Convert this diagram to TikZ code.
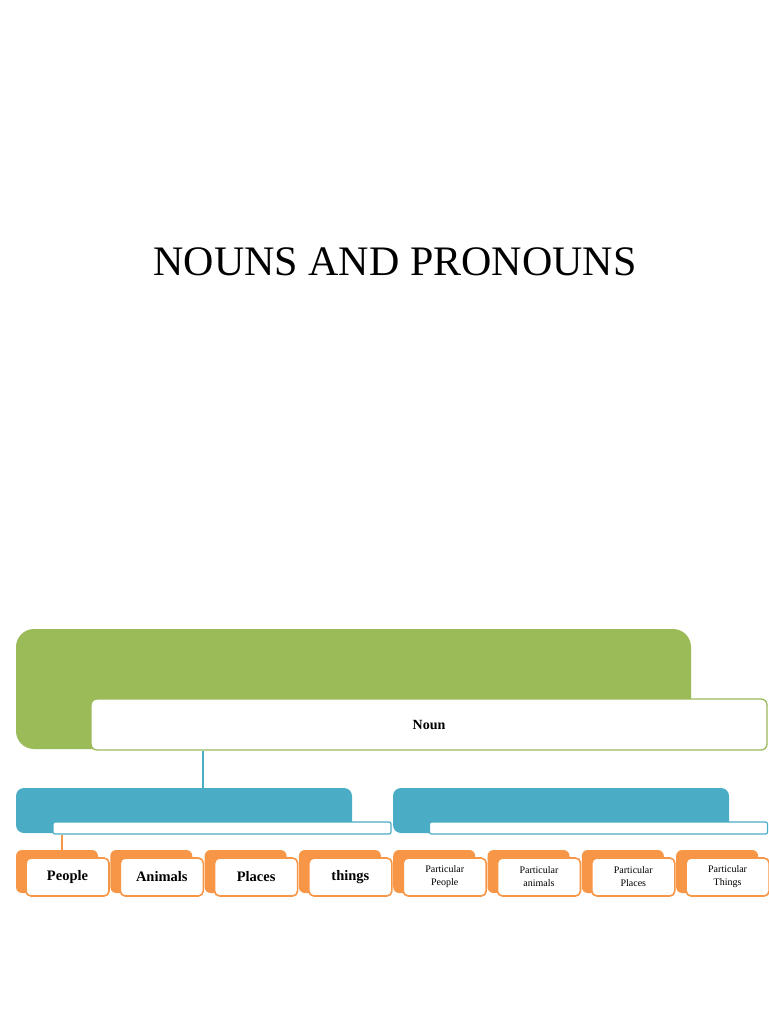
\documentclass[tikz,border=0pt]{standalone}
\usepackage{fontspec}
\setmainfont{Liberation Serif}
\definecolor{ogreen}{HTML}{9BBB59}
\definecolor{oblue}{HTML}{4BACC6}
\definecolor{oorange}{HTML}{F79646}
\begin{document}
\begin{tikzpicture}[x=1pt,y=-1pt,
  greenbox/.style={fill=ogreen,rounded corners=18pt,minimum width=675pt,minimum height=120pt,inner sep=0pt},
  nounbox/.style={draw=ogreen,line width=1.3pt,fill=white,rounded corners=6pt,minimum width=676pt,minimum height=51pt,inner sep=0pt,font=\fontsize{14}{16}\selectfont\bfseries},
  bluebox/.style={fill=oblue,rounded corners=8pt,minimum width=336pt,minimum height=45pt,inner sep=0pt},
  barbox/.style={draw=oblue,line width=1.2pt,fill=white,rounded corners=2pt,minimum width=338pt,minimum height=12pt,inner sep=0pt},
  backbox/.style={fill=oorange,rounded corners=6pt,minimum width=82pt,minimum height=43pt,inner sep=0pt},
  frontbox/.style={draw=oorange,line width=1.6pt,fill=white,rounded corners=5pt,minimum width=83pt,minimum height=38pt,inner sep=0pt,align=center},
  bigtxt/.style={font=\fontsize{14.5}{16}\selectfont\bfseries},
  smalltxt/.style={font=\fontsize{10}{13}\selectfont},
  bline/.style={draw=oblue,line width=1.3pt},
  oline/.style={draw=oorange,line width=2pt}]
\useasboundingbox (0,0) rectangle (768,1024);
\node[font=\fontsize{42}{48}\selectfont] (title) at (395,262) {NOUNS AND PRONOUNS};

\node[greenbox] (top) at (353.5,689) {};
\node[nounbox] (noun) at (429,724.5) {Noun};

\node[bluebox] (cat1) at (184,810.5) {};
\node[barbox] (bar1) at (222,828) {};
\node[bluebox] (cat2) at (561,810.5) {};
\node[barbox] (bar2) at (598.5,828) {};

\coordinate (c1) at (203,0);
\draw[bline] (c1 |- noun.south) -- (c1 |- cat1.north);

\foreach \i/\t/\s in {0/People/bigtxt,1/Animals/bigtxt,2/Places/bigtxt,3/things/bigtxt,
  4/{Particular\\People}/smalltxt,5/{Particular\\animals}/smalltxt,6/{Particular\\Places}/smalltxt,7/{Particular\\Things}/smalltxt}{
  \node[backbox] (back\i) at ({57+94.3*\i},871.5) {};
  \node[frontbox,\s] (item\i) at ({67.5+94.3*\i},877) {\t};
}
\coordinate (c2) at (62,0);
\draw[oline] (c2 |- bar1.south) -- (c2 |- back0.north);
\end{tikzpicture}
\end{document}
